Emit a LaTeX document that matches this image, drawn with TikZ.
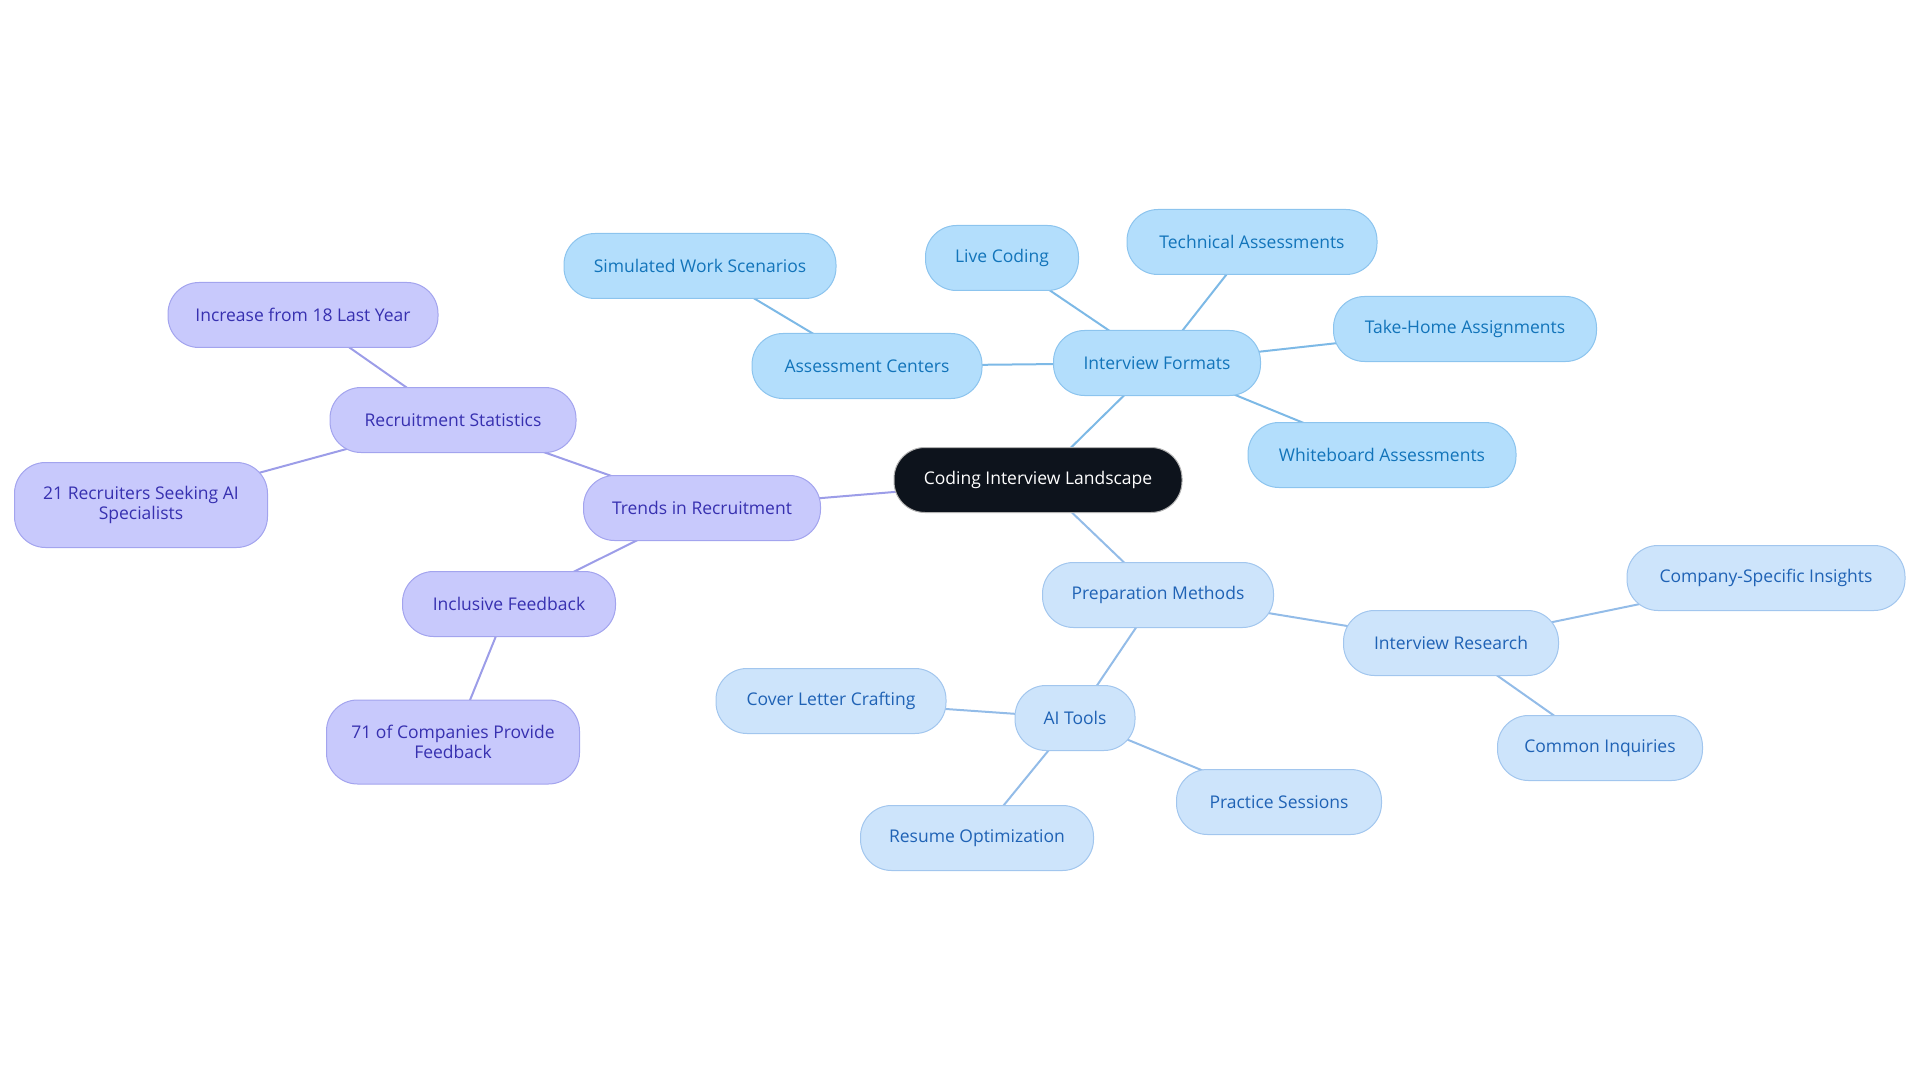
\documentclass[tikz,border=0pt]{standalone}
\usepackage{fontspec}
\setmainfont{Open Sans}
\usetikzlibrary{backgrounds}
\definecolor{bfill}{HTML}{B3DEFC}
\definecolor{bline}{HTML}{8CC4EE}
\definecolor{btext}{HTML}{1274BA}
\definecolor{pfill}{HTML}{CDE4FB}
\definecolor{pline}{HTML}{A2C6EE}
\definecolor{ptext}{HTML}{1F62B5}
\definecolor{vfill}{HTML}{C8C9FC}
\definecolor{vline}{HTML}{A3A4EE}
\definecolor{vtext}{HTML}{3730B0}
\definecolor{cfill}{HTML}{0D131C}
\definecolor{bedge}{HTML}{7DB9E6}
\definecolor{pedge}{HTML}{93BCE8}
\definecolor{vedge}{HTML}{9C9DE8}
\tikzset{
  pill/.style={rectangle, rounded corners=31pt, minimum height=65pt, line width=1pt, align=center, font=\fontsize{17.5}{19.5}\selectfont, inner sep=2pt},
  bnode/.style={pill, fill=bfill, draw=bline, text=btext},
  pnode/.style={pill, fill=pfill, draw=pline, text=ptext},
  vnode/.style={pill, fill=vfill, draw=vline, text=vtext},
  cnode/.style={pill, fill=cfill, draw=gray!60, text=white},
  bedg/.style={draw=bedge, line width=2pt},
  pedg/.style={draw=pedge, line width=2pt},
  vedg/.style={draw=vedge, line width=2pt},
}
\begin{document}
\begin{tikzpicture}[x=1pt,y=-1pt]
\useasboundingbox (0,0) rectangle (1920,1083);
% center
\node[cnode, minimum width=288pt] (c) at (1038,480) {Coding Interview Landscape};
% interview formats branch
\node[bnode, minimum width=207pt] (if) at (1157,363) {Interview Formats};
\node[bnode, minimum width=250pt] (ta) at (1252,242) {Technical Assessments};
\node[bnode, minimum width=263pt] (th) at (1465,329) {Take-Home Assignments};
\node[bnode, minimum width=268pt] (wa) at (1382,455) {Whiteboard Assessments};
\node[bnode, minimum width=153pt] (lc) at (1002,258) {Live Coding};
\node[bnode, minimum width=230pt] (ac) at (867,366) {Assessment Centers};
\node[bnode, minimum width=272pt] (sw) at (700,266) {Simulated Work Scenarios};
% preparation branch
\node[pnode, minimum width=231pt] (pm) at (1158,595) {Preparation Methods};
\node[pnode, minimum width=120pt] (ai) at (1075,718) {AI Tools};
\node[pnode, minimum width=230pt] (cl) at (831,701) {Cover Letter Crafting};
\node[pnode, minimum width=233pt] (ro) at (977,838) {Resume Optimization};
\node[pnode, minimum width=205pt] (ps) at (1279,802) {Practice Sessions};
\node[pnode, minimum width=215pt] (ir) at (1451,643) {Interview Research};
\node[pnode, minimum width=278pt] (cs) at (1766,578) {Company-Specific Insights};
\node[pnode, minimum width=205pt] (ci) at (1600,748) {Common Inquiries};
% trends branch
\node[vnode, minimum width=237pt] (tr) at (702,508) {Trends in Recruitment};
\node[vnode, minimum width=246pt] (rs) at (453,420) {Recruitment Statistics};
\node[vnode, minimum width=270pt] (inc) at (303,315) {Increase from 18 Last Year};
\node[vnode, minimum width=253pt, minimum height=85pt] (rec) at (141,505) {21 Recruiters Seeking AI\\Specialists};
\node[vnode, minimum width=213pt] (ifb) at (509,604) {Inclusive Feedback};
\node[vnode, minimum width=253pt, minimum height=84pt] (co) at (453,742) {71 of Companies Provide\\Feedback};
% edges
\begin{scope}[on background layer]
\draw[bedg] (c.center) -- (if.center);
\draw[bedg] (if.center) -- (ta.center);
\draw[bedg] (if.center) -- (th.center);
\draw[bedg] (if.center) -- (wa.center);
\draw[bedg] (if.center) -- (lc.center);
\draw[bedg] (if.center) -- (ac.center);
\draw[bedg] (ac.center) -- (sw.center);
\draw[pedg] (c.center) -- (pm.center);
\draw[pedg] (pm.center) -- (ai.center);
\draw[pedg] (pm.center) -- (ir.center);
\draw[pedg] (ai.center) -- (cl.center);
\draw[pedg] (ai.center) -- (ro.center);
\draw[pedg] (ai.center) -- (ps.center);
\draw[pedg] (ir.center) -- (cs.center);
\draw[pedg] (ir.center) -- (ci.center);
\draw[vedg] (c.center) -- (tr.center);
\draw[vedg] (tr.center) -- (rs.center);
\draw[vedg] (tr.center) -- (ifb.center);
\draw[vedg] (rs.center) -- (inc.center);
\draw[vedg] (rs.center) -- (rec.center);
\draw[vedg] (ifb.center) -- (co.center);
\end{scope}
\end{tikzpicture}
\end{document}
